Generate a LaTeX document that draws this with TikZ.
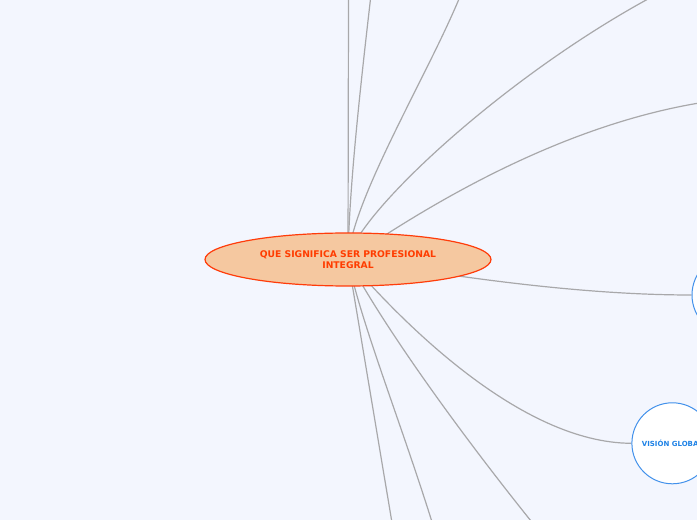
\documentclass[tikz,border=0pt]{standalone}
\usepackage{fontspec}
\setmainfont{DejaVu Sans}
\usetikzlibrary{shapes.geometric,backgrounds}
\begin{document}
\begin{tikzpicture}[x=1pt,y=1pt,
  rama/.style={draw=lineColor,line width= 1.2pt,line join=round},
  raiz/.style={ellipse,draw=rootDraw,line width= 1.2pt,fill=rootFill,text=rootText,inner sep=0pt,minimum width=286,minimum height=53,align=center,font=\fontsize{9.2}{11}\selectfont\bfseries},
  hoja/.style={circle,draw=leafDraw,line width= 1.0pt,fill=white,text=leafText,inner sep=0pt,minimum size=81,font=\fontsize{7}{8}\selectfont\bfseries}]
\definecolor{fillColor}{RGB}{243,246,254}
\definecolor{lineColor}{RGB}{168,168,170}
\definecolor{rootFill}{RGB}{245,200,160}
\definecolor{rootDraw}{RGB}{255,60,10}
\definecolor{rootText}{RGB}{255,60,0}
\definecolor{leafDraw}{RGB}{66,145,235}
\definecolor{leafText}{RGB}{30,130,230}
\path[use as bounding box] (0,0) rectangle (697,520);
\clip (0,0) rectangle (697,520);

\node[raiz] (raiz) at (348.00,260.50) {QUE SIGNIFICA SER PROFESIONAL\\INTEGRAL};

\node[hoja] (circulo) at (732.50,225.00) {};

\node[hoja] (vision) at (672.40, 76.70) {VISIÓN GLOBAL};

\coordinate (arriba1) at (348.50,521.00);
\coordinate (arriba2) at (370.50,521.00);
\coordinate (arriba3) at (459.00,521.00);
\coordinate (arriba4) at (648.00,521.00);
\coordinate (derecha1) at (698.00,416.80);
\coordinate (abajo1) at (391.70, -1.00);
\coordinate (abajo2) at (431.70, -1.00);
\coordinate (abajo3) at (531.00, -1.00);

\begin{scope}[on background layer]
\path[fill=fillColor] (0,0) rectangle (697,520);

\path[rama] (raiz.center) -- (arriba1);

\path[rama] (raiz.center) .. controls (349.00,330.00) and (360.00,430.00) .. (arriba2);

\path[rama] (raiz.center) .. controls (352.00,320.00) and (425.00,440.00) .. (arriba3);

\path[rama] (raiz.center) .. controls (356.00,305.00) and (500.00,440.00) .. (arriba4);

\path[rama] (raiz.center) .. controls (400.00,295.00) and (540.00,390.00) .. (derecha1);

\path[rama] (raiz.center) .. controls (420.00,250.00) and (560.00,225.00) .. (circulo.west);

\path[rama] (raiz.center) .. controls (400.00,200.00) and (520.00, 77.00) .. (vision.west);

\path[rama] (raiz.center) -- (abajo1);

\path[rama] (raiz.center) .. controls (360.00,200.00) and (400.00,100.00) .. (abajo2);

\path[rama] (raiz.center) .. controls (380.00,200.00) and (450.00,100.00) .. (abajo3);
\end{scope}
\end{tikzpicture}
\end{document}
